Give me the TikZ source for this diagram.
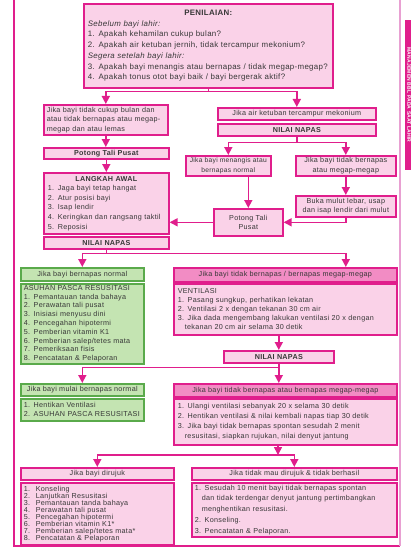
\documentclass[tikz,border=0pt]{standalone}
\usepackage{fontspec}
\setmainfont{Liberation Sans}[LetterSpace=4.0]
\usetikzlibrary{arrows.meta}
\definecolor{mag}{RGB}{224,30,140}
\definecolor{lpk}{RGB}{232,160,210}
\definecolor{pk}{RGB}{250,210,232}
\definecolor{dpk}{RGB}{242,140,196}
\definecolor{grn}{RGB}{90,170,75}
\definecolor{gfill}{RGB}{196,228,178}
\definecolor{txt}{RGB}{55,55,55}
\newcommand\fs{\fontsize{7.2}{9.6}\selectfont}
\newcommand\nm[1]{\makebox[10pt][l]{#1}}
\tikzset{
  base/.style={anchor=north west, inner sep=0pt, font=\fs, text=txt, line width=1.6pt},
  pbox/.style={base, draw=mag, fill=pk},
  dbox/.style={base, draw=mag, fill=dpk},
  gbox/.style={base, draw=grn, fill=gfill},
  arr/.style={draw=mag, line width=1.6pt, -{Triangle[width=8pt,length=8pt]}},
}
\begin{document}
\begin{tikzpicture}[x=1pt,y=-1pt]
\useasboundingbox (0,0) rectangle (410,559);
% frame
\draw[mag, line width=1.5pt] (14,-2) -- (14,546) -- (400,546);
\draw[lpk, line width=1.5pt] (400,-2) -- (400,546);
\fill[mag] (405,20) rectangle (414,170);
\node[rotate=-90, font=\fontsize{5}{5}\selectfont\bfseries, text=white, inner sep=0pt] (tabt) at (409,95) {MANAJEMEN BBL PADA SAAT LAHIR};

% boxes
\node[pbox, minimum width=249pt, minimum height=84pt, text width=241pt, align=left, font=\fontsize{7.9}{10.7}\selectfont] (pen) at (83,3)
 {\makebox[241pt]{\bfseries PENILAIAN:}\\
  \textit{Sebelum bayi lahir:}\\
  1. Apakah kehamilan cukup bulan?\\
  2. Apakah air ketuban jernih, tidak tercampur mekonium?\\
  \textit{Segera setelah bayi lahir:}\\
  3. Apakah bayi menangis atau bernapas / tidak megap-megap?\\
  4. Apakah tonus otot bayi baik / bayi bergerak aktif?};

\node[pbox, minimum width=124pt, minimum height=30pt, text width=118pt, align=left] (j1) at (43,104)
 {\makebox[118pt][s]{Jika bayi tidak cukup bulan dan}\\
  \makebox[118pt][s]{atau tidak bernapas atau megap-}\\
  megap dan atau lemas};
\node[pbox, minimum width=125pt, minimum height=11pt] (pot1) at (43,147) {\bfseries Potong Tali Pusat};
\node[pbox, minimum width=125pt, minimum height=61pt, text width=117pt, align=left] (la) at (43,172)
 {\makebox[117pt]{\bfseries LANGKAH AWAL}\\
  \nm{1.}Jaga bayi tetap hangat\\
  \nm{2.}Atur posisi bayi\\
  \nm{3.}Isap lendir\\
  \nm{4.}Keringkan dan rangsang taktil\\
  \nm{5.}Reposisi};
\node[pbox, minimum width=125pt, minimum height=12pt] (nn1) at (43,236) {\bfseries NILAI NAPAS};

\node[pbox, minimum width=158pt, minimum height=12pt] (mk) at (217,107) {Jika air ketuban tercampur mekonium};
\node[pbox, minimum width=158pt, minimum height=12pt] (nn2) at (217,123) {\bfseries NILAI NAPAS};
\node[pbox, minimum width=85pt, minimum height=20pt, align=center, font=\fontsize{6.7}{9.2}\selectfont] (mn) at (185,155) {Jika bayi menangis atau\\bernapas normal};
\node[pbox, minimum width=100pt, minimum height=20pt, align=center] (tb) at (295,155) {Jika bayi tidak bernapas\\atau megap-megap};
\node[pbox, minimum width=100pt, minimum height=21pt, align=center] (bk) at (295,195) {Buka mulut lebar, usap\\dan isap lendir dari mulut};
\node[pbox, minimum width=69pt, minimum height=27pt, align=center] (pot2) at (213,208) {Potong Tali\\Pusat};

\node[gbox, minimum width=123pt, minimum height=13pt] (g1) at (20,267) {Jika bayi bernapas normal};
\node[gbox, minimum width=123pt, minimum height=80pt, text width=117pt, align=left, font=\fontsize{7.2}{8.8}\selectfont] (g1l) at (20,283)
 {ASUHAN PASCA RESUSITASI\\
  1. Pemantauan tanda bahaya\\
  2. Perawatan tali pusat\\
  3. Inisiasi menyusu dini\\
  4. Pencegahan hipotermi\\
  5. Pemberian vitamin K1\\
  6. Pemberian salep/tetes mata\\
  7. Pemeriksaan fisis\\
  8. Pencatatan \& Pelaporan};
\node[dbox, minimum width=223pt, minimum height=14pt] (pb) at (173,267) {Jika bayi tidak bernapas / bernapas megap-megap};
\node[pbox, minimum width=223pt, minimum height=51pt, text width=215pt, align=left, font=\fontsize{7.2}{9}\selectfont] (vent) at (173,283)
 {VENTILASI\\
  1. Pasang sungkup, perhatikan lekatan\\
  2. Ventilasi 2 x dengan tekanan 30 cm air\\
  3. Jika dada mengembang lakukan ventilasi 20 x dengan\\
  \hspace*{7pt}tekanan 20 cm air selama 30 detik};
\node[pbox, minimum width=110pt, minimum height=12pt] (nn3) at (223,350) {\bfseries NILAI NAPAS};

\node[gbox, minimum width=123pt, minimum height=12pt] (g2) at (20,383) {Jika bayi mulai bernapas normal};
\node[gbox, minimum width=123pt, minimum height=22pt, text width=117pt, align=left, font=\fontsize{7.2}{9}\selectfont] (g2l) at (20,398)
 {1. Hentikan Ventilasi\\2. ASUHAN PASCA RESUSITASI};
\node[dbox, minimum width=223pt, minimum height=13pt] (pb2) at (173,383) {Jika bayi tidak bernapas atau bernapas megap-megap};
\node[pbox, minimum width=223pt, minimum height=46pt, text width=215pt, align=left, font=\fontsize{7.2}{9.8}\selectfont] (pl3) at (173,398)
 {1. Ulangi ventilasi sebanyak 20 x selama 30 detik\\
  2. Hentikan ventilasi \& nilai kembali napas tiap 30 detik\\
  3. Jika bayi tidak bernapas spontan sesudah 2 menit\\
  \hspace*{7pt}resusitasi, siapkan rujukan, nilai denyut jantung};

\node[pbox, minimum width=153pt, minimum height=12pt] (dr) at (20,467) {Jika bayi dirujuk};
\node[pbox, minimum width=153pt, minimum height=62pt, text width=147pt, align=left, font=\fontsize{7.2}{7}\selectfont] (drl) at (20,482)
 {\makebox[12pt][l]{1.}Konseling\\
  \makebox[12pt][l]{2.}Lanjutkan Resusitasi\\
  \makebox[12pt][l]{3.}Pemantauan tanda bahaya\\
  \makebox[12pt][l]{4.}Perawatan tali pusat\\
  \makebox[12pt][l]{5.}Pencegahan hipotermi\\
  \makebox[12pt][l]{6.}Pemberian vitamin K1*\\
  \makebox[12pt][l]{7.}Pemberian salep/tetes mata*\\
  \makebox[12pt][l]{8.}Pencatatan \& Pelaporan};
\node[pbox, minimum width=205pt, minimum height=12pt] (tm) at (191,467) {Jika tidak mau dirujuk \& tidak berhasil};
\node[pbox, minimum width=205pt, minimum height=54pt, text width=199pt, align=left, font=\fontsize{7.2}{10.7}\selectfont] (tml) at (191,482)
 {1. Sesudah 10 menit bayi tidak bernapas spontan\\
  \hspace*{7pt}dan tidak terdengar denyut jantung pertimbangkan\\
  \hspace*{7pt}menghentikan resusitasi.\\
  2. Konseling.\\
  3. Pencatatan \& Pelaporan.};

% connectors
\draw[arr] (pen.south) -- ++(0,3) -| (j1.north);
\draw[arr] (pen.south) -- ++(0,3) -| (mk.north);
\draw[arr] (j1.south) -- (j1.south |- pot1.north);
\draw[arr] (pot1.south) -- (pot1.south |- la.north);
\draw[arr] (nn2.south) -- ++(0,6) -| (mn.north);
\draw[arr] (nn2.south) -- ++(0,6) -| (tb.north);
\draw[arr] (tb.south) -- (tb.south |- bk.north);
\draw[arr] (pot2.north |- mn.south) -- (pot2.north);
\draw[arr] (bk.south) |- (pot2.east);
\draw[arr] (pot2.west) -- (pot2.west -| la.east);
\draw[arr] (nn1.south) -- ++(0,4) -| (g1.north);
\draw[arr] (nn1.south) -- ++(0,4) -| ([xshift=60.5pt]pb.north);
\draw[arr] (vent.south -| nn3.north) -- (nn3.north);
\draw[arr] (nn3.south) -- ++(0,4) -| (g2.north);
\draw[arr] (nn3.south) -- (nn3.south |- pb2.north);
\coordinate (jn) at (278,455);
\draw[arr] (pl3.south -| jn) -- (jn);
\draw[arr] (jn) -| (dr.north);
\draw[arr] (jn) -| (tm.north);
\end{tikzpicture}
\end{document}
